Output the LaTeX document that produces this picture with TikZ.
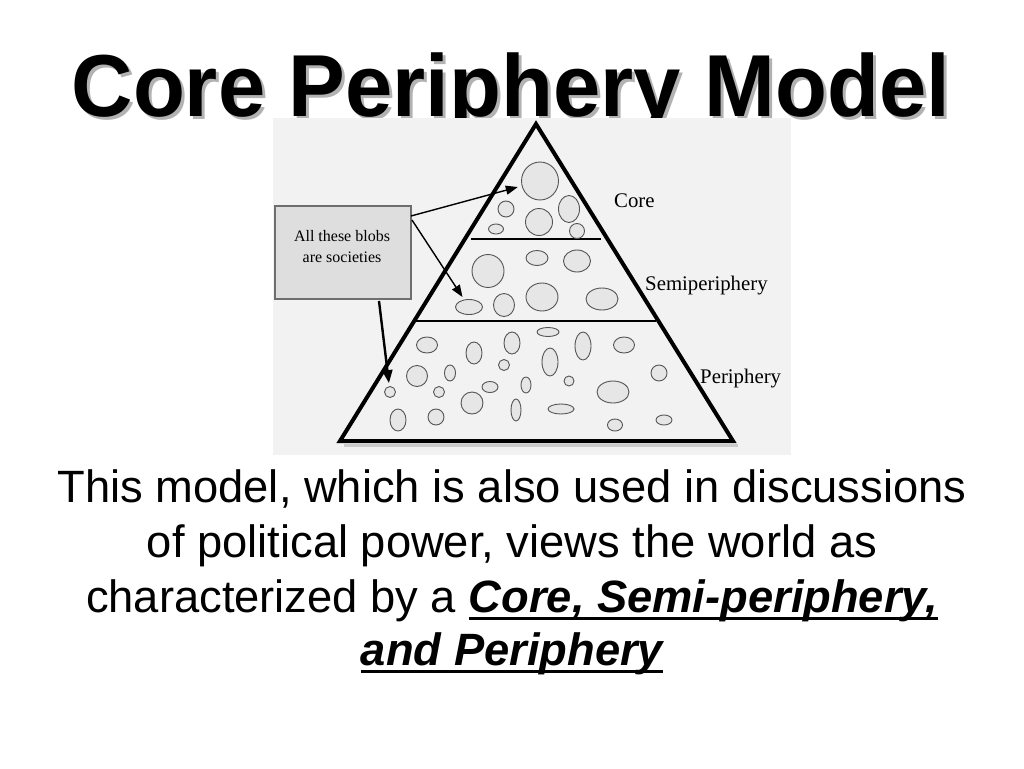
\documentclass[tikz,border=0pt]{standalone}
\usepackage{fontspec}
\usepackage{graphicx}
\setmainfont{Liberation Sans}
\newfontfamily\seriffont{Liberation Serif}
\usetikzlibrary{shapes.geometric,arrows.meta}
\newsavebox\myulbox
\newcommand\myul[1]{\sbox\myulbox{#1}\rlap{\rule[-8pt]{\wd\myulbox}{3pt}}\usebox\myulbox}
\definecolor{bgimg}{RGB}{242,242,242}
\definecolor{blobfill}{RGB}{230,230,230}
\definecolor{blobdraw}{RGB}{85,85,85}
\definecolor{boxfill}{RGB}{222,222,222}
\definecolor{boxdraw}{RGB}{110,110,110}
\definecolor{shadowgray}{RGB}{178,178,178}
\tikzset{
  blob/.style={ellipse, draw=blobdraw, fill=blobfill, line width=0.9pt, inner sep=0pt},
  lab/.style={font=\seriffont\fontsize{20.8}{24}\selectfont, inner sep=0pt},
  boxtext/.style={font=\seriffont\fontsize{16}{20}\selectfont, inner sep=0pt},
  body/.style={font=\fontsize{45.3}{54}\selectfont, inner sep=0pt},
  titletext/.style={font=\fontsize{88}{90}\selectfont\bfseries, inner sep=0pt},
  arr/.style={-{Triangle[length=12pt,width=9pt]}, line width=1.4pt},
  arrthick/.style={-{Triangle[length=13pt,width=10pt]}, line width=2.4pt}
}
\begin{document}
\begin{tikzpicture}[x=1pt,y=-1pt]
\useasboundingbox (0,0) rectangle (1024,768);
\fill[white] (0,0) rectangle (1024,768);
% title with shadow
\node[titletext, anchor=base, text=shadowgray] (titleshadow) at (514,119) {\scalebox{0.966}[1]{Core Periphery Model}};
\node[titletext, anchor=base] (title) at (511,116) {\scalebox{0.966}[1]{Core Periphery Model}};
% picture background
\fill[bgimg] (273,118) rectangle (791,455);
% base shadow
\draw[line width=3.5pt, gray!40] (344,445.5) -- (738,445.5);
% triangle
\coordinate (apex) at (536,124);
\coordinate (bl) at (340,441);
\coordinate (br) at (733,441);
\draw[line width=4pt, line join=miter] (apex) -- (br) -- (bl) -- cycle;
% divider lines
\coordinate (c1) at (471,239);
\coordinate (c2) at (601,239);
\coordinate (s1) at (416,321);
\coordinate (s2) at (656,321);
\draw[line width=1.2pt] (c1) -- (c2);
\draw[line width=1.2pt] (s1) -- (s2);
% core blobs
\node[blob, minimum width=37, minimum height=38] (bigcore) at (540,181) {};
\node[blob, minimum width=16, minimum height=16] (cb2) at (506,209) {};
\node[blob, minimum width=27, minimum height=27] (cb3) at (539,222) {};
\node[blob, minimum width=21, minimum height=27] (cb4) at (569,209) {};
\node[blob, minimum width=15, minimum height=10] (cb5) at (496,229) {};
\node[blob, minimum width=15, minimum height=15] (cb6) at (577,231) {};
% semi blobs
\node[blob, minimum width=32, minimum height=33] (sb1) at (488,271) {};
\node[blob, minimum width=22, minimum height=15] (sb2) at (537,258) {};
\node[blob, minimum width=27, minimum height=22] (sb3) at (577,261) {};
\node[blob, minimum width=27, minimum height=15] (semitarget) at (469,307) {};
\node[blob, minimum width=21, minimum height=23] (sb5) at (504,305) {};
\node[blob, minimum width=32, minimum height=28] (sb6) at (542,297) {};
\node[blob, minimum width=32, minimum height=22] (sb7) at (602,299) {};
% periphery blobs
\node[blob, minimum width=21, minimum height=16] (pb1) at (427,345) {};
\node[blob, minimum width=16, minimum height=22] (pb2) at (474,353) {};
\node[blob, minimum width=16, minimum height=22] (pb3) at (512,343) {};
\node[blob, minimum width=22, minimum height=9] (pb4) at (548,332) {};
\node[blob, minimum width=16, minimum height=28] (pb5) at (583,346) {};
\node[blob, minimum width=21, minimum height=16] (pb6) at (624,345) {};
\node[blob, minimum width=21, minimum height=21] (pb7) at (417,376) {};
\node[blob, minimum width=11, minimum height=16] (pb8) at (450,373) {};
\node[blob, minimum width=11, minimum height=11] (pb9) at (504,365) {};
\node[blob, minimum width=16, minimum height=28] (pb10) at (550,362) {};
\node[blob, minimum width=16, minimum height=16] (pb11) at (659,373) {};
\node[blob, minimum width=11, minimum height=11] (peritarget) at (390,392) {};
\node[blob, minimum width=11, minimum height=11] (pb13) at (439,392) {};
\node[blob, minimum width=16, minimum height=11] (pb14) at (490,387) {};
\node[blob, minimum width=10, minimum height=16] (pb15) at (526,385) {};
\node[blob, minimum width=10, minimum height=10] (pb16) at (569,381) {};
\node[blob, minimum width=32, minimum height=22] (pb17) at (613,392) {};
\node[blob, minimum width=22, minimum height=22] (pb18) at (472,403) {};
\node[blob, minimum width=16, minimum height=22] (pb19) at (398,420) {};
\node[blob, minimum width=16, minimum height=16] (pb20) at (436,417) {};
\node[blob, minimum width=10, minimum height=22] (pb21) at (516,410) {};
\node[blob, minimum width=26, minimum height=10] (pb22) at (561,409) {};
\node[blob, minimum width=15, minimum height=12] (pb23) at (615,425) {};
\node[blob, minimum width=16, minimum height=10] (pb24) at (664,420) {};
% labels
\node[lab, anchor=base west] (lcore) at (614,207) {Core};
\node[lab, anchor=base west] (lsemi) at (645,290) {Semiperiphery};
\node[lab, anchor=base west] (lperi) at (700,383) {Periphery};
% box
\node[draw=boxdraw, fill=boxfill, line width=1.2pt, minimum width=136, minimum height=93, inner sep=0pt] (box) at (343,252.5) {};
\node[boxtext, anchor=base] (bt1) at (342,241) {All these blobs};
\node[boxtext, anchor=base] (bt2) at (342,262) {are societies};
% arrows
\coordinate (a1) at (411,216);
\coordinate (a2) at (412,220);
\coordinate (a3) at (379,301);
\draw[arr, shorten >=4pt] (a1) -- (bigcore);
\draw[arr, shorten >=3pt] (a2) -- (semitarget);
\draw[arrthick, shorten >=3pt] (a3) -- (peritarget);
% body text
\node[body, anchor=base] (l1) at (512,502) {This model, which is also used in discussions};
\node[body, anchor=base] (l2) at (512,557) {of political power, views the world as};
\node[body, anchor=base] (l3) at (512,612) {characterized by a {\bfseries\itshape\myul{Core, Semi-periphery,}}};
\node[body, anchor=base] (l4) at (512,665) {{\bfseries\itshape\myul{and Periphery}}};
\end{tikzpicture}
\end{document}
